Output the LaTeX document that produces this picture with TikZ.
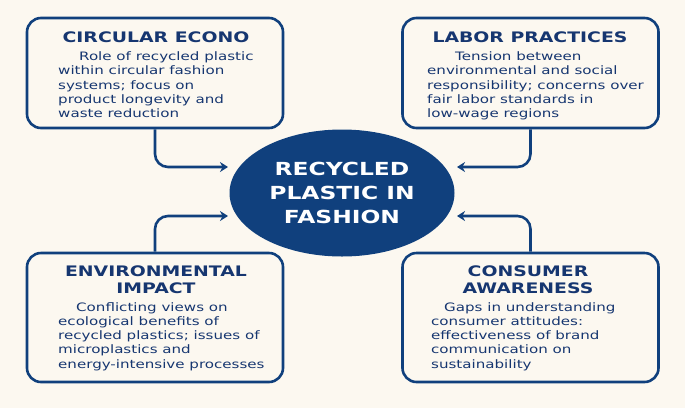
\documentclass[tikz,border=0pt]{standalone}
\usepackage{fontspec}
\setmainfont{DejaVu Sans}[FakeStretch=1.3]
\usetikzlibrary{arrows.meta, shapes.geometric}
\definecolor{navyblue}{RGB}{16,64,125}
\definecolor{cardnavy}{RGB}{22,54,112}
\definecolor{cream}{RGB}{252,248,240}

\tikzset{
  card/.style={draw=navyblue, line width=2.6pt, rounded corners=14pt,
    fill=cream, minimum width=256pt, inner sep=0pt},
  cardtitle/.style={font=\fontsize{14.5}{17}\selectfont\bfseries,
    text=cardnavy, align=center, inner sep=0pt},
  cardtext/.style={font=\fontsize{11.6}{14.3}\selectfont,
    text=cardnavy, align=left, inner sep=0pt, anchor=north west},
  link/.style={draw=navyblue, line width=2.6pt, rounded corners=13pt,
    -{Stealth[length=8pt,width=10pt]}},
}

\begin{document}
\begin{tikzpicture}[x=1pt, y=-1pt]

\fill[cream] (0,0) rectangle (685,408);
\useasboundingbox (0,0) rectangle (685,408);

% ---- Centre ----
\node[ellipse, fill=navyblue, minimum width=225pt, minimum height=127pt,
      inner sep=0pt, text=white, align=center,
      font=\fontsize{18}{23.7}\selectfont\bfseries] (hub) at (342,193)
  {RECYCLED\\PLASTIC IN\\FASHION};

% ---- Cards ----
\node[card, minimum height=110pt] (econ)  at (155,73) {};
\node[card, minimum height=110pt] (labor) at (530.5,73) {};
\node[card, minimum height=129pt] (env)   at (155,317.5) {};
\node[card, minimum height=129pt] (aware) at (530.5,317.5) {};

\node[cardtitle] (econ-title)  at (156,37.5)  {CIRCULAR ECONO};
\node[cardtitle] (labor-title) at (530,37.5)  {LABOR PRACTICES};
\node[cardtitle] (env-title)   at (156,279.5) {ENVIRONMENTAL\\IMPACT};
\node[cardtitle] (aware-title) at (528,279.5) {CONSUMER\\AWARENESS};

\node[cardtext] (econ-text) at (58,51.5)
  {\hspace*{21pt}Role of recycled plastic\\within circular fashion\\
   systems; focus on\\product longevity and\\waste reduction};
\node[cardtext] (labor-text) at (427,51.5)
  {\hspace*{28pt}Tension between\\environmental and social\\
   responsibility; concerns over\\fair labor standards in\\low-wage regions};
\node[cardtext] (env-text) at (58,302)
  {\hspace*{18pt}Conflicting views on\\ecological benefits of\\
   recycled plastics; issues of\\microplastics and\\energy-intensive processes};
\node[cardtext] (aware-text) at (431,302)
  {\hspace*{13pt}Gaps in understanding\\consumer attitudes:\\
   effectiveness of brand\\communication on\\sustainability};

% ---- Links ----
\coordinate (in-nw) at (228,167);
\coordinate (in-ne) at (457,167);
\coordinate (in-sw) at (228,216);
\coordinate (in-se) at (457,216);

\draw[link] (econ.south)  |- (in-nw);
\draw[link] (labor.south) |- (in-ne);
\draw[link] (env.north)   |- (in-sw);
\draw[link] (aware.north) |- (in-se);

\end{tikzpicture}
\end{document}
